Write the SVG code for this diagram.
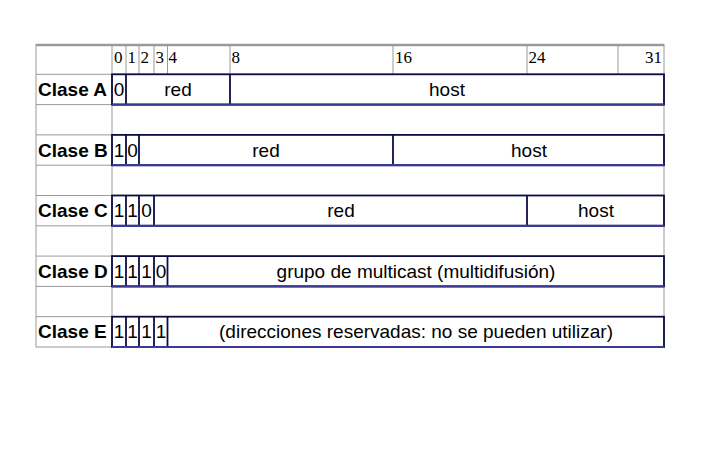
<svg xmlns="http://www.w3.org/2000/svg" width="720" height="450" viewBox="0 0 720 450">
<style>
.g{stroke:#9a9a9a;stroke-width:1;fill:none}
.f{stroke:#0c0c44;stroke-width:1.8;fill:none}
.b{stroke:#3a3a94;stroke-width:2.2}
.lbl{font-family:"Liberation Sans",Arial,sans-serif;font-weight:bold;font-size:19px;fill:#000}
.t{font-family:"Liberation Sans",Arial,sans-serif;font-size:19px;fill:#000;text-anchor:middle}
.n{font-family:"Liberation Serif","Times New Roman",serif;font-size:17px;fill:#000}
</style>
<rect width="720" height="450" fill="#fff"/>
<g id="table-grid">
<rect class="g" x="36" y="44.5" width="628" height="302.5"/>
<line x1="36" y1="45" x2="664" y2="45" stroke="#9a9a9a" stroke-width="2.5"/>
<line class="g" x1="112" y1="44" x2="112" y2="347"/>
<line class="g" x1="36" y1="74.3" x2="664" y2="74.3"/>
<line class="g" x1="36" y1="104.6" x2="112" y2="104.6"/>
<line class="g" x1="36" y1="134.9" x2="112" y2="134.9"/>
<line class="g" x1="36" y1="165.2" x2="112" y2="165.2"/>
<line class="g" x1="36" y1="195.5" x2="112" y2="195.5"/>
<line class="g" x1="36" y1="225.8" x2="112" y2="225.8"/>
<line class="g" x1="36" y1="256.1" x2="112" y2="256.1"/>
<line class="g" x1="36" y1="286.4" x2="112" y2="286.4"/>
<line class="g" x1="36" y1="316.7" x2="112" y2="316.7"/>
</g>
<g id="header">
<line class="g" x1="126" y1="44" x2="126" y2="74"/>
<line class="g" x1="139" y1="44" x2="139" y2="74"/>
<line class="g" x1="154" y1="44" x2="154" y2="74"/>
<line class="g" x1="167.5" y1="44" x2="167.5" y2="74"/>
<line class="g" x1="230" y1="44" x2="230" y2="74"/>
<line class="g" x1="393" y1="44" x2="393" y2="74"/>
<line class="g" x1="527" y1="44" x2="527" y2="74"/>
<line class="g" x1="618" y1="44" x2="618" y2="74"/>
<text class="n" x="114" y="63">0</text>
<text class="n" x="127.5" y="63">1</text>
<text class="n" x="140.5" y="63">2</text>
<text class="n" x="155.5" y="63">3</text>
<text class="n" x="168.5" y="63">4</text>
<text class="n" x="231.5" y="63">8</text>
<text class="n" x="395" y="63">16</text>
<text class="n" x="528.5" y="63">24</text>
<text class="n" x="662" y="63" text-anchor="end">31</text>
</g>
<g id="clase-a">
<text class="lbl" x="38" y="96">Clase A</text>
<rect class="f" x="112" y="74.3" width="552" height="30.3"/>
<line class="f" x1="126" y1="74.3" x2="126" y2="104.6"/>
<line class="f" x1="230" y1="74.3" x2="230" y2="104.6" stroke-width="2.6"/>
<line class="b" x1="112" y1="104.6" x2="664" y2="104.6"/>
<text class="t" x="119" y="96">0</text>
<text class="t" x="178" y="96">red</text>
<text class="t" x="447" y="96">host</text>
</g>
<g id="clase-b">
<text class="lbl" x="38" y="157">Clase B</text>
<rect class="f" x="112" y="134.9" width="552" height="30.3"/>
<line class="f" x1="126" y1="134.9" x2="126" y2="165.2"/>
<line class="f" x1="139" y1="134.9" x2="139" y2="165.2"/>
<line class="f" x1="393" y1="134.9" x2="393" y2="165.2"/>
<line class="b" x1="112" y1="165.2" x2="664" y2="165.2"/>
<text class="t" x="119" y="157">1</text>
<text class="t" x="132.5" y="157">0</text>
<text class="t" x="266" y="157">red</text>
<text class="t" x="529" y="157">host</text>
</g>
<g id="clase-c">
<text class="lbl" x="38" y="217">Clase C</text>
<rect class="f" x="112" y="195.5" width="552" height="30.3"/>
<line class="f" x1="126" y1="195.5" x2="126" y2="225.8"/>
<line class="f" x1="139" y1="195.5" x2="139" y2="225.8"/>
<line class="f" x1="154" y1="195.5" x2="154" y2="225.8"/>
<line class="f" x1="527" y1="195.5" x2="527" y2="225.8"/>
<line class="b" x1="112" y1="225.8" x2="664" y2="225.8"/>
<text class="t" x="119" y="217">1</text>
<text class="t" x="132.5" y="217">1</text>
<text class="t" x="146.5" y="217">0</text>
<text class="t" x="341" y="217">red</text>
<text class="t" x="596" y="217">host</text>
</g>
<g id="clase-d">
<text class="lbl" x="38" y="278">Clase D</text>
<rect class="f" x="112" y="256.1" width="552" height="30.3"/>
<line class="f" x1="126" y1="256.1" x2="126" y2="286.4"/>
<line class="f" x1="139" y1="256.1" x2="139" y2="286.4"/>
<line class="f" x1="154" y1="256.1" x2="154" y2="286.4"/>
<line class="f" x1="167.5" y1="256.1" x2="167.5" y2="286.4"/>
<line class="b" x1="112" y1="286.4" x2="664" y2="286.4"/>
<text class="t" x="119" y="278">1</text>
<text class="t" x="132.5" y="278">1</text>
<text class="t" x="146.5" y="278">1</text>
<text class="t" x="161" y="278">0</text>
<text class="t" x="416" y="278">grupo de multicast (multidifusión)</text>
</g>
<g id="clase-e">
<text class="lbl" x="38" y="338">Clase E</text>
<rect class="f" x="112" y="316.7" width="552" height="30.3"/>
<line class="f" x1="126" y1="316.7" x2="126" y2="347"/>
<line class="f" x1="139" y1="316.7" x2="139" y2="347"/>
<line class="f" x1="154" y1="316.7" x2="154" y2="347"/>
<line class="f" x1="167.5" y1="316.7" x2="167.5" y2="347"/>
<line class="b" x1="112" y1="347" x2="664" y2="347"/>
<text class="t" x="119" y="338">1</text>
<text class="t" x="132.5" y="338">1</text>
<text class="t" x="146.5" y="338">1</text>
<text class="t" x="161" y="338">1</text>
<text class="t" x="416" y="338">(direcciones reservadas: no se pueden utilizar)</text>
</g>
</svg>
